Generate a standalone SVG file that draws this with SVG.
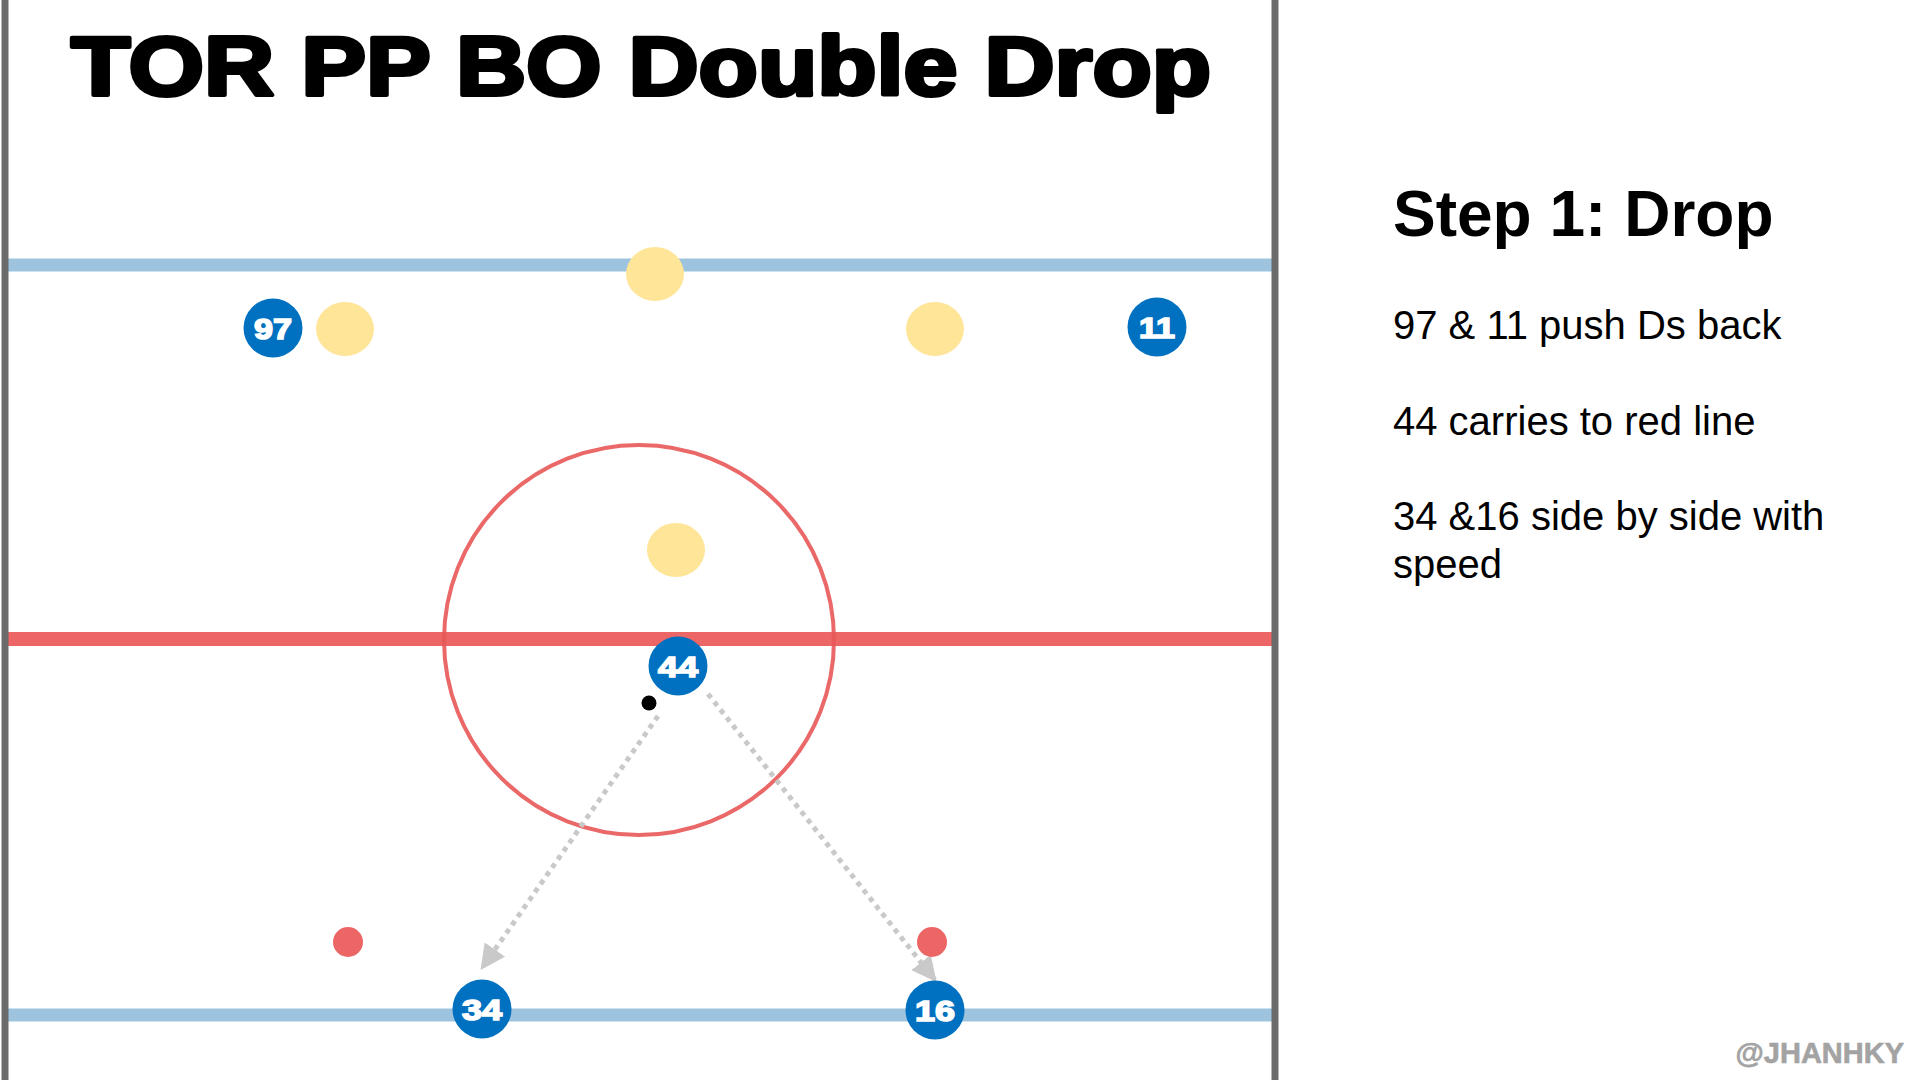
<svg xmlns="http://www.w3.org/2000/svg" width="1920" height="1080" viewBox="0 0 1920 1080">
<defs>
<style>
.border{stroke:#6b6b6b;stroke-width:7;}
.blue{stroke:#9dc3de;stroke-width:13;}
.red{stroke:#ec6666;stroke-width:14;}
.ring{fill:none;stroke:#e85858;stroke-width:4;stroke-opacity:0.9;}
.player{fill:#0070c0;}
.pnum{fill:#ffffff;stroke:#ffffff;stroke-width:1.6;font-family:"Liberation Sans",Arial,sans-serif;font-weight:bold;font-size:29px;text-anchor:middle;}
.def{fill:#fee598;}
.dot{fill:#ec6666;}
.pass{fill:none;stroke:#c9c9c9;stroke-width:5;stroke-dasharray:5 5;marker-end:url(#arr);}
.title{font-family:"Liberation Sans",Arial,sans-serif;font-weight:bold;font-size:84px;fill:#000;stroke:#000;stroke-width:4;stroke-linejoin:round;}
.h{font-family:"Liberation Sans",Arial,sans-serif;font-weight:bold;font-size:64px;fill:#000;}
.t{font-family:"Liberation Sans",Arial,sans-serif;font-size:40px;fill:#000;}
.wm{font-family:"Liberation Sans",Arial,sans-serif;font-weight:bold;font-size:29px;fill:#a3a3a3;stroke:#a3a3a3;stroke-width:0.6;}
</style>
<marker id="arr" viewBox="0 0 10 10" refX="9" refY="5" markerWidth="5" markerHeight="5" markerUnits="strokeWidth" orient="auto">
<path d="M0,0 L10,5 L0,10 z" fill="#c9c9c9"/>
</marker>
</defs>
<rect width="1920" height="1080" fill="#ffffff"/>
<g id="rink">
<line class="blue" x1="8" y1="265" x2="1272" y2="265"/>
<line class="red" x1="8" y1="639" x2="1272" y2="639"/>
<line class="blue" x1="8" y1="1015" x2="1272" y2="1015"/>
<circle class="ring" cx="639" cy="640" r="195"/>
<line class="border" x1="5" y1="0" x2="5" y2="1080"/>
<line class="border" x1="1275" y1="0" x2="1275" y2="1080"/>
</g>
<text class="title" x="71" y="95" textLength="1140" lengthAdjust="spacingAndGlyphs">TOR PP BO Double Drop</text>
<g id="connectors">
<line class="pass" x1="658" y1="716" x2="482" y2="968"/>
<line class="pass" x1="708" y1="694" x2="935" y2="980"/>
</g>
<g id="d-top"><ellipse class="def" cx="655" cy="274" rx="29" ry="27"/></g>
<g id="d-left"><ellipse class="def" cx="345" cy="329" rx="29" ry="27"/></g>
<g id="d-right"><ellipse class="def" cx="935" cy="329" rx="29" ry="27"/></g>
<g id="d-center"><ellipse class="def" cx="676" cy="550" rx="29" ry="27"/></g>
<g id="red-left"><circle class="dot" cx="348" cy="942" r="15"/></g>
<g id="red-right"><circle class="dot" cx="932" cy="942" r="15"/></g>
<g id="puck"><circle cx="649" cy="703" r="7.5" fill="#000"/></g>
<g id="p97"><circle class="player" cx="273" cy="328" r="29.5"/><text class="pnum" x="273" y="339" textLength="38" lengthAdjust="spacingAndGlyphs">97</text></g>
<g id="p11"><circle class="player" cx="1157" cy="327" r="29.5"/><text class="pnum" x="1157" y="338" textLength="36" lengthAdjust="spacingAndGlyphs">11</text></g>
<g id="p44"><circle class="player" cx="678" cy="666" r="29.5"/><text class="pnum" x="678" y="677" textLength="40" lengthAdjust="spacingAndGlyphs">44</text></g>
<g id="p34"><circle class="player" cx="482" cy="1009" r="29.5"/><text class="pnum" x="482" y="1020" textLength="40" lengthAdjust="spacingAndGlyphs">34</text></g>
<g id="p16"><circle class="player" cx="935" cy="1010" r="29.5"/><text class="pnum" x="935" y="1021" textLength="40" lengthAdjust="spacingAndGlyphs">16</text></g>
<g id="notes">
<text class="h" x="1393" y="236">Step 1: Drop</text>
<text class="t" x="1393" y="339">97 &amp; 11 push Ds back</text>
<text class="t" x="1393" y="435">44 carries to red line</text>
<text class="t" x="1393" y="530">34 &amp;16 side by side with</text>
<text class="t" x="1393" y="578">speed</text>
</g>
<text class="wm" x="1904" y="1063" text-anchor="end">@JHANHKY</text>
</svg>
